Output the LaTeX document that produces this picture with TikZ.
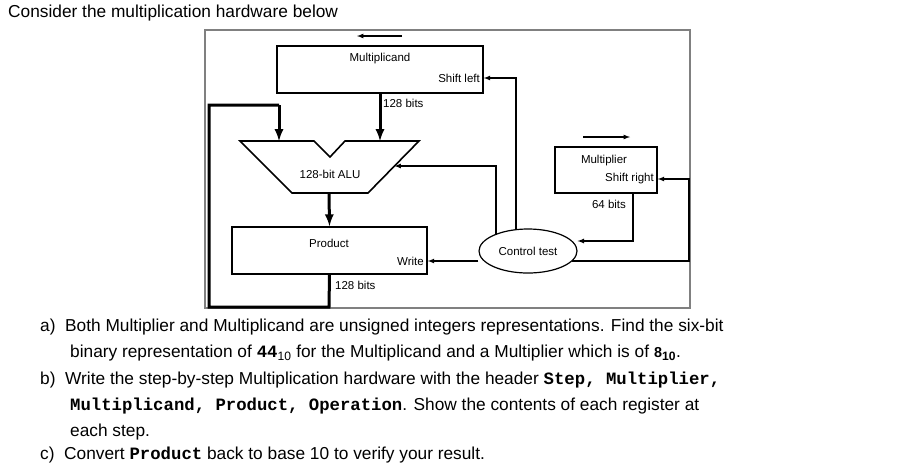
\documentclass[tikz,border=0pt]{standalone}
\usepackage{fontspec}
\setmainfont{Liberation Sans}
\newfontfamily\monofont{Liberation Mono}
\newcommand{\mono}[1]{{\monofont\bfseries #1}}
\usetikzlibrary{shapes.geometric}
\begin{document}
\begin{tikzpicture}[
        x=1pt, y=-1pt,
        reg/.style={draw, line width=1.6pt, inner sep=0pt},
        lbl/.style={font=\fontsize{11.5}{13}\selectfont, inner sep=1pt},
        txt/.style={font=\fontsize{17.3}{20}\selectfont, anchor=west, inner sep=0pt},
        arrow/.style={-latex, line width=1.2pt},
        bus/.style={-latex, line width=3pt}
    ]
        \useasboundingbox (0,0) rectangle (900,475);
        \node[txt] (title) at (8,13) {Consider the multiplication hardware below};
        % frame
        \draw[gray, line width=1.2pt] (205,30) rectangle (690,308);
        % registers
        \node[reg, minimum width=206, minimum height=47] (mcand) at (380,69.5) {};
        \node[lbl, anchor=north] at (380,52) {Multiplicand};
        \node[lbl, anchor=east] (sl) at (481,78) {Shift left};
        \node[reg, minimum width=195, minimum height=47] (prod) at (329.5,250.5) {};
        \node[lbl] at (329,243) {Product};
        \node[lbl, anchor=east] (wr) at (425,261) {Write};
        \node[reg, minimum width=102, minimum height=46] (mplier) at (606,170) {};
        \node[lbl] at (604,161) {Multiplier};
        \node[lbl, anchor=east] (sr) at (655,179) {Shift right};
        \node[draw, line width=1.2pt, ellipse, minimum width=98, minimum height=44, inner sep=0pt] (ctrl) at (528,251) {};
        \node[lbl] at (528,251) {Control test};
        % ALU
        \draw[line width=1.6pt] (240,141) -- (314,141) -- (330,157) -- (345,141) -- (419,141)
            -- (368,193) -- (292,193) -- cycle;
        \node[lbl] (alu) at (330,174) {128-bit ALU};
        \coordinate (aluR) at (394.5,166);
        % direction marks
        \draw[arrow] (402,36) -- (357,36);
        \draw[arrow] (583,137) -- (630,137);
        % data paths
        \draw[bus] (mcand.south) -- (380,141);
        \node[lbl, anchor=west] at (382,103) {128 bits};
        \draw[bus] (329,193) -- (prod.north);
        \draw[line width=3pt] (prod.south) -- (329,307) -- (209,307) -- (209,105) -- (279,105)
            edge[bus] (279,141);
        \node[lbl, anchor=west] at (334,285) {128 bits};
        \draw[arrow] (mplier.south -| 633,0) |- (ctrl.east |- 0,241);
        \node[lbl] at (609,204) {64 bits};
        % control lines
        \draw[arrow] (516,229.5) |- (mcand.east |- sl);
        \draw[arrow] (496,235) |- (aluR);
        \draw[arrow] (ctrl.west |- 0,261) -- (prod.east |- wr);
        \draw[arrow] (572,261) -- (689,261) |- (mplier.east |- sr);
        % questions
        \node[txt] at (40,327) {a)\ \ Both Multiplier and Multiplicand are unsigned integers representations. Find the six-bit};
        \node[txt] at (70,353) {binary representation of \mono{44}\textsubscript{10} for the Multiplicand and a Multiplier which is of \textbf{\Large 8}\textsubscript{\bfseries 10}.};
        \node[txt] at (40,380) {b)\ \ Write the step-by-step Multiplication hardware with the header \mono{Step, Multiplier,}};
        \node[txt] at (70,406) {\mono{Multiplicand, Product, Operation}. Show the contents of each register at};
        \node[txt] at (70,432) {each step.};
        \node[txt] at (40,455) {c)\ \ Convert \mono{Product} back to base 10 to verify your result.};
\end{tikzpicture}
\end{document}
